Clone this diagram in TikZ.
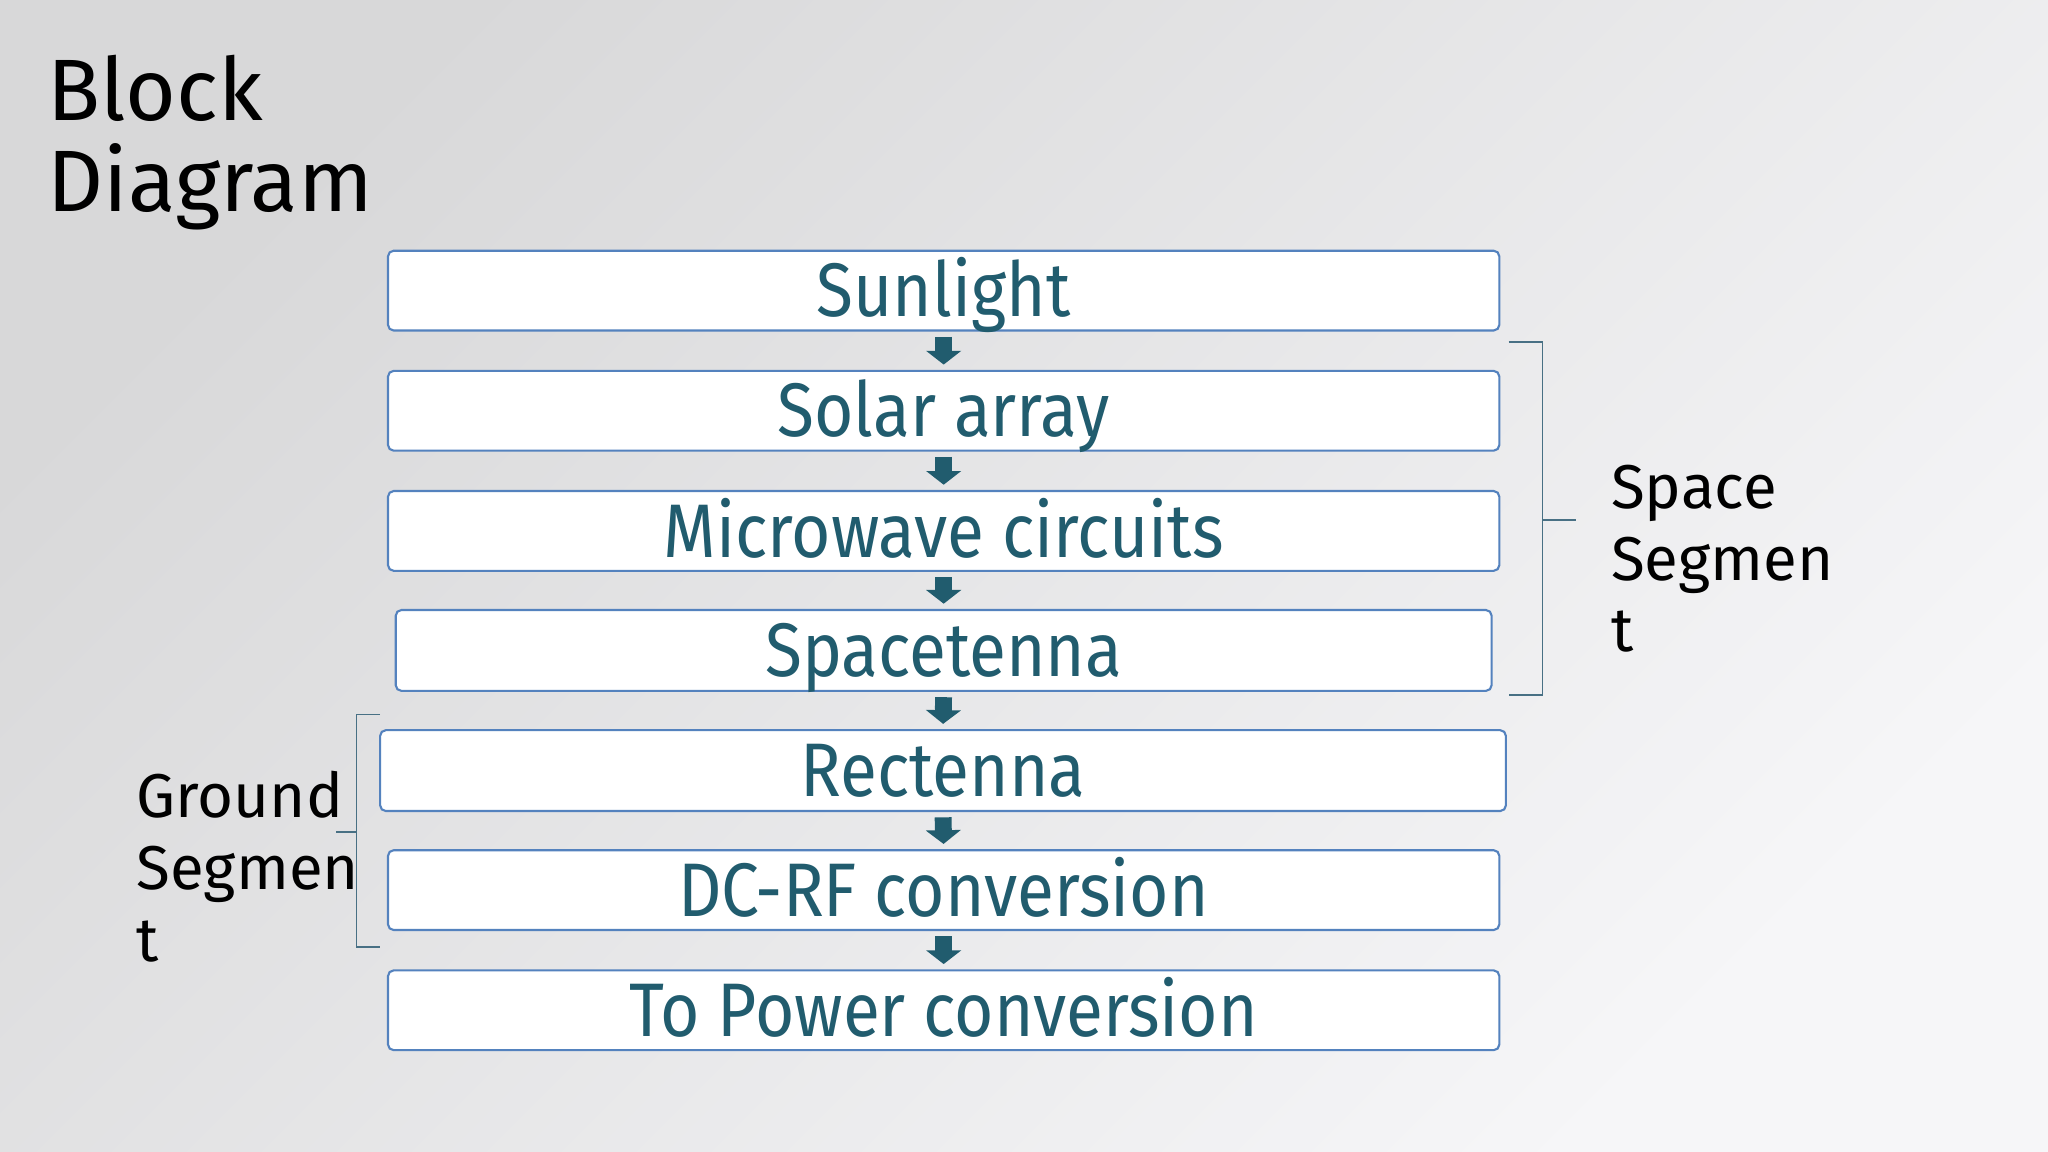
\documentclass[tikz,border=0pt]{standalone}
\usepackage{fontspec}
\setmainfont{Fira Sans}
\newfontfamily\boxfont[FakeStretch=0.89]{Fira Sans}
\usetikzlibrary{arrows.meta}
\definecolor{bgA}{RGB}{216,216,217}
\definecolor{bgB}{RGB}{246,246,248}
\definecolor{tealtext}{RGB}{33,92,110}
\definecolor{boxline}{RGB}{84,130,190}
\definecolor{brack}{RGB}{72,112,132}
\tikzset{
  stagebox/.style={draw=boxline, line width=0.6pt, fill=white, rounded corners=1.6pt,
    inner sep=0pt, minimum height=22.7pt, text height=14.9pt, text depth=0pt,
    font=\boxfont\fontsize{21.6}{24}\selectfont, text=tealtext},
  flowarrow/.style={draw=tealtext, line width=4.8pt,
    -{Triangle[width=9.8pt,length=3.9pt]}, shorten <=1.5pt, shorten >=1.5pt},
  bracketline/.style={draw=brack, line width=0.5pt},
  seglabel/.style={anchor=base west, align=left, inner sep=0pt,
    font=\fontsize{17.6}{20.4}\selectfont, text=black},
}
\begin{document}
\begin{tikzpicture}[x=0.013061cm, y=-0.013061cm]
\useasboundingbox (0,0) rectangle (1568,882);
\shade[top color=bgA, bottom color=bgB, shading angle=45] (0cm,0cm) rectangle (20.48cm,-11.52cm);

\node[anchor=base west, align=left, inner sep=0pt, font=\fontsize{24.8}{26}\selectfont] (title) at (36,162) {Block\\Diagram};

\node[stagebox, minimum width=316.2pt] (sun) at (722.5,222.5) {Sunlight};
\node[stagebox, minimum width=316.2pt] (solar) at (722.5,314.5) {Solar array};
\node[stagebox, minimum width=316.2pt] (micro) at (722.5,406.5) {Microwave circuits};
\node[stagebox, minimum width=311.8pt, minimum height=23pt] (spacet) at (722.5,498) {Spacetenna};
\node[stagebox, minimum width=320.3pt, minimum height=23pt] (rect) at (722,590) {Rectenna};
\node[stagebox, minimum width=316.2pt] (dcrf) at (722.5,681.5) {DC-RF conversion};
\node[stagebox, minimum width=316.2pt] (topower) at (722.5,773.5) {To Power conversion};

\draw[flowarrow] (sun.south) -- (solar.north);
\draw[flowarrow] (solar.south) -- (micro.north);
\draw[flowarrow] (micro.south) -- (spacet.north);
\draw[flowarrow] (spacet.south) -- (rect.north);
\draw[flowarrow] (rect.south) -- (dcrf.north);
\draw[flowarrow] (dcrf.south) -- (topower.north);

% Space segment bracket
\draw[bracketline] (1155,262) -- (1181,262) -- (1181,532) -- (1155,532);
\draw[bracketline] (1181,398) -- (1207,398);
\node[seglabel] (space) at (1233,499) {Space\\Segmen\\t};

% Ground segment bracket
\draw[bracketline] (291,547) -- (273,547) -- (273,725) -- (291,725);
\draw[bracketline] (273,637) -- (257,637);
\node[seglabel] (ground) at (104,736) {Ground\\Segmen\\t};
\end{tikzpicture}
\end{document}
